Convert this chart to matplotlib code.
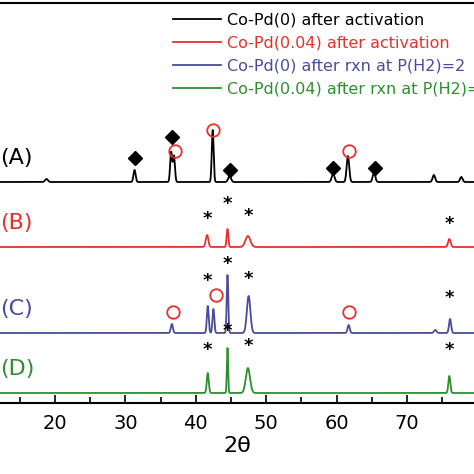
import numpy as np
import matplotlib.pyplot as plt

# peak tables: (position 2theta, height, width)
peaks_a = [(18.8, 3, 0.4), (31.3, 12, 0.3), (36.5, 30, 0.28), (36.9, 26, 0.28), (42.4, 52, 0.26),
           (44.8, 6, 0.4), (59.5, 8, 0.4), (61.6, 26, 0.36), (65.3, 10, 0.36), (73.8, 7, 0.36), (77.7, 5, 0.36)]
peaks_b = [(41.6, 12, 0.36), (44.5, 18, 0.24), (47.4, 11, 0.7), (76.0, 8, 0.36)]
peaks_c = [(36.6, 9, 0.3), (41.7, 27, 0.26), (42.5, 24, 0.26), (44.5, 58, 0.22), (47.5, 37, 0.5),
           (61.7, 8, 0.3), (74.0, 3, 0.36), (76.1, 14, 0.3)]
peaks_d = [(41.7, 20, 0.28), (44.5, 45, 0.18), (47.4, 25, 0.6), (76.0, 17, 0.28)]
offsets = [221, 156, 70, 10]
colors = ["black", "#e8302a", "#4b4b9b", "#2f8f2f"]
names = ["Co-Pd(0) after activation", "Co-Pd(0.04) after activation",
         "Co-Pd(0) after rxn at P(H2)=2", "Co-Pd(0.04) after rxn at P(H2)=2"]
tags = ["(A)", "(B)", "(C)", "(D)"]

# markers: (x, y)
diamonds = [(31.3, 245), (36.6, 266), (44.8, 233), (59.5, 235), (65.4, 235)]
circles = [(37.1, 252), (42.4, 273), (61.7, 252), (36.7, 91), (42.9, 108), (61.7, 91)]
stars = [(41.6, 185), (44.5, 200), (47.4, 188), (76.0, 180), (41.6, 123), (44.5, 140), (47.4, 125),
         (76.0, 106), (41.6, 54), (44.5, 73), (47.4, 58), (76.0, 54)]

x = np.linspace(10, 80, 3000)

fig = plt.figure(figsize=(4.74, 4.74), dpi=100)
ax = fig.add_axes([0, 71 / 474, 1, 400 / 474])
for peaks, off, c, n in zip([peaks_a, peaks_b, peaks_c, peaks_d], offsets, colors, names):
    y = np.full_like(x, off)
    for p, h, w in peaks:
        y = y + h * np.exp(-0.5 * ((x - p) / (w / 2)) ** 2)
    ax.plot(x, y, color=c, lw=1.3, label=n)

for (px, py) in diamonds:
    ax.plot(px, py, marker="D", color="black", ms=7, ls="none")
for (px, py) in circles:
    ax.plot(px, py, marker="o", mfc="none", mec="#e8302a", mew=1.3, ms=9, ls="none")
for (px, py) in stars:
    ax.text(px, py - 1, "*", ha="center", va="center", fontsize=13, fontweight="bold")

for t, off, c in zip(tags, offsets, colors):
    ax.text(12.25, off + 24, t, color=c, fontsize=16, va="center")

ax.set_xlim(12.2, 79.5)
ax.set_ylim(0, 400)
ax.set_yticks([])
ax.set_xticks(range(20, 80, 10))
ax.set_xticks(range(15, 80, 5), minor=True)
ax.tick_params(axis="x", direction="in", labelsize=14, length=6, width=1.2, pad=8)
ax.tick_params(axis="x", which="minor", direction="in", length=4, width=1.2)
ax.spines["left"].set_visible(False)
ax.spines["right"].set_visible(False)
ax.spines["top"].set_linewidth(1.5)
ax.spines["bottom"].set_linewidth(1.5)
ax.set_xlabel("2θ", fontsize=16, labelpad=2)

leg = ax.legend(loc="upper left", bbox_to_anchor=(0.345, 1.0), frameon=False, fontsize=11.5,
                handlelength=3.0, handletextpad=0.4, labelspacing=0.5, borderaxespad=0.2)
for txt, c in zip(leg.get_texts(), colors):
    txt.set_color(c)

fig.savefig("out.png", dpi=100)
